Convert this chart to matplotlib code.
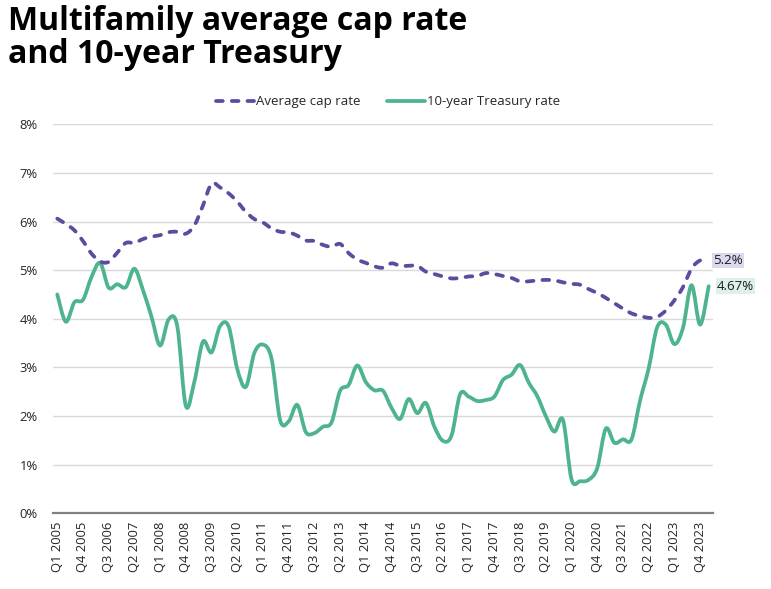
import matplotlib
matplotlib.use("Agg")
import matplotlib.pyplot as plt
from matplotlib.path import Path
from matplotlib.patches import PathPatch
from matplotlib.lines import Line2D
import numpy as np

plt.rcParams['font.family'] = ['Open Sans', 'DejaVu Sans']

# Trimestres Q1 2005 .. Q1 2024
trimestres = [f"Q{q} {a}" for a in range(2005, 2025) for q in range(1, 5)][:77]

cap_rate = [6.06, 5.95, 5.82, 5.60, 5.34, 5.18, 5.17, 5.36, 5.56, 5.56,
            5.64, 5.69, 5.72, 5.78, 5.79, 5.75, 5.92, 6.33, 6.78, 6.70,
            6.58, 6.41, 6.20, 6.05, 5.98, 5.86, 5.79, 5.78, 5.71, 5.61,
            5.60, 5.52, 5.48, 5.54, 5.35, 5.22, 5.15, 5.08, 5.05, 5.14,
            5.09, 5.09, 5.09, 4.97, 4.92, 4.87, 4.83, 4.84, 4.87, 4.88,
            4.94, 4.92, 4.88, 4.84, 4.77, 4.77, 4.79, 4.80, 4.79, 4.75,
            4.72, 4.70, 4.61, 4.53, 4.43, 4.32, 4.21, 4.11, 4.06, 4.02,
            4.04, 4.17, 4.38, 4.65, 5.03, 5.20, 5.20]

treasury = [4.50, 3.94, 4.34, 4.39, 4.86, 5.15, 4.64, 4.71, 4.65, 5.03,
            4.59, 4.04, 3.45, 3.99, 3.85, 2.21, 2.71, 3.53, 3.31, 3.85,
            3.84, 2.97, 2.60, 3.30, 3.47, 3.18, 1.92, 1.89, 2.23, 1.67,
            1.65, 1.78, 1.87, 2.52, 2.64, 3.04, 2.70, 2.53, 2.52, 2.17,
            1.94, 2.35, 2.06, 2.27, 1.78, 1.49, 1.60, 2.45, 2.40, 2.31,
            2.33, 2.40, 2.74, 2.85, 3.05, 2.69, 2.41, 2.00, 1.68, 1.92,
            0.70, 0.66, 0.69, 0.93, 1.74, 1.45, 1.52, 1.52, 2.32, 2.98,
            3.83, 3.88, 3.48, 3.81, 4.69, 3.88, 4.67]

etiquetas_fin = ["5.2%", "4.67%"]

color_cap = '#5a4da0'
color_tsy = '#4db48e'


def curva_suave(xs, ys):
    # Bezier tipo Excel (Catmull-Rom) dibujado por matplotlib
    p = np.column_stack([xs, ys]).astype(float)
    n = len(p)
    verts = [p[0]]
    codes = [Path.MOVETO]
    for i in range(n - 1):
        p0 = p[i - 1] if i > 0 else p[i]
        p3 = p[i + 2] if i + 2 < n else p[i + 1]
        c1 = p[i] + (p[i + 1] - p0) / 6
        c2 = p[i + 1] - (p3 - p[i]) / 6
        verts += [c1, c2, p[i + 1]]
        codes += [Path.CURVE4] * 3
    return Path(verts, codes)


fig = plt.figure(figsize=(7.71, 5.89), dpi=100)
ax = fig.add_axes([0.0687, 0.1285, 0.856, 0.6605])

x = np.arange(len(trimestres))

lw = 2.7
guiones = (0, (1.8, 2.4))
ax.add_patch(PathPatch(curva_suave(x, treasury), fill=False, edgecolor=color_tsy,
                       linewidth=lw, capstyle='round', joinstyle='round', zorder=3))
ax.add_patch(PathPatch(curva_suave(x, cap_rate), fill=False, edgecolor=color_cap,
                       linewidth=lw, linestyle=guiones, capstyle='round',
                       joinstyle='round', zorder=4))

ax.set_xlim(-0.5, len(trimestres) - 0.5)
ax.set_ylim(0, 8)
ax.set_yticks(range(0, 9))
ax.set_yticklabels([f"{v}%" for v in range(0, 9)])
ax.set_xticks(x[::3])
ax.set_xticklabels(trimestres[::3], rotation=90)

ax.tick_params(axis='both', length=0, labelsize=9.4, labelcolor='#262626')
ax.tick_params(axis='y', pad=11)
ax.tick_params(axis='x', pad=6)

ax.grid(axis='y', color='#d9d9d9', linewidth=1.0)
ax.set_axisbelow(True)
for lado in ['top', 'right', 'left']:
    ax.spines[lado].set_visible(False)
ax.spines['bottom'].set_color('#7f7f7f')
ax.spines['bottom'].set_linewidth(1.6)
ax.spines['bottom'].set_zorder(2)

# Etiquetas del ultimo punto
ax.annotate(etiquetas_fin[0], xy=(x[-1], cap_rate[-1]), xytext=(3, 0),
            textcoords='offset points', ha='left', va='center', fontsize=9.5,
            color='#1a1a1a', annotation_clip=False,
            bbox=dict(boxstyle='square,pad=0.1', fc='#dcd8ee', ec='none'))
ax.annotate(etiquetas_fin[1], xy=(x[-1], treasury[-1]), xytext=(6, 0),
            textcoords='offset points', ha='left', va='center', fontsize=9.5,
            color='#1a1a1a', annotation_clip=False,
            bbox=dict(boxstyle='square,pad=0.1', fc='#ddf0e9', ec='none'))

# Leyenda
manijas = [Line2D([], [], color=color_cap, linewidth=lw, linestyle=guiones,
                  dash_capstyle='round'),
           Line2D([], [], color=color_tsy, linewidth=lw, solid_capstyle='round')]
fig.legend(manijas, ["Average cap rate", "10-year Treasury rate"], loc='center',
           bbox_to_anchor=(0.503, 0.827), ncol=2, frameon=False, fontsize=9.5,
           handlelength=2.9, handletextpad=0.15, columnspacing=2.0,
           labelcolor='#262626')

fig.text(0.0104, 0.992, "Multifamily average cap rate\nand 10-year Treasury",
         ha='left', va='top', fontsize=23, fontweight='bold', color='black',
         linespacing=1.02)

fig.savefig("out.png", dpi=100)
